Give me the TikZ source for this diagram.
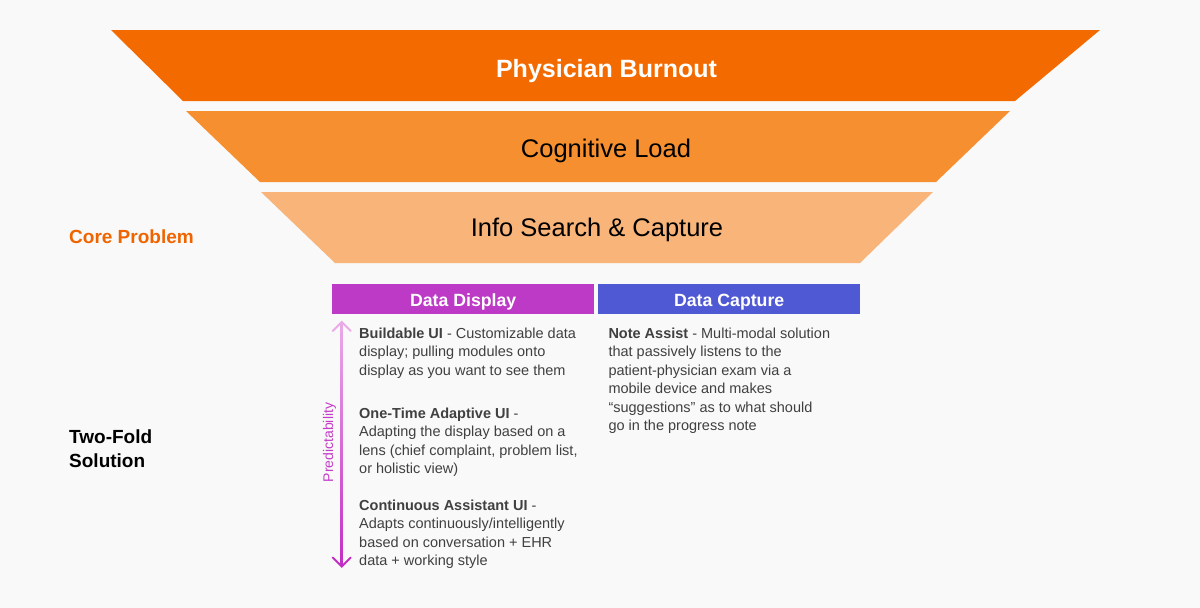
\documentclass[tikz,border=0pt]{standalone}
\usepackage{fontspec}
\setmainfont{Liberation Sans}
\definecolor{bgc}{HTML}{F9F9F9}
\definecolor{lvla}{HTML}{F36A00}
\definecolor{lvlb}{HTML}{F68F2F}
\definecolor{lvlc}{HTML}{F8B479}
\definecolor{ddc}{HTML}{BC3AC5}
\definecolor{dcc}{HTML}{5059D4}
\definecolor{txtc}{HTML}{404040}
\definecolor{corec}{HTML}{F06400}
\definecolor{arrtop}{HTML}{E9AAE7}
\definecolor{arrbot}{HTML}{C22EC4}
\definecolor{predc}{HTML}{C43CC8}
\newcommand{\mlines}[1]{\begin{tabular}[t]{@{}l@{}}#1\end{tabular}}
\begin{document}
\begin{tikzpicture}[x=1pt,y=-1pt,
  lvltxt/.style={anchor=base,inner sep=0pt,font=\fontsize{25.5}{30}\selectfont},
  hdrbox/.style={anchor=north west,inner sep=0pt,minimum width=262pt,minimum height=29.3pt},
  hdrtxt/.style={anchor=base,inner sep=0pt,text=white,font=\bfseries\fontsize{17.7}{21}\selectfont},
  bodytxt/.style={anchor=base west,inner sep=0pt,text=txtc,font=\fontsize{14.5}{18.5}\selectfont},
  sidetxt/.style={anchor=base west,inner sep=0pt,font=\bfseries\fontsize{19}{24.3}\selectfont}]
\fill[bgc] (0,0) rectangle (1200,608);
\useasboundingbox (0,0) rectangle (1200,608);
% funnel levels
\coordinate (a1) at (111,30); \coordinate (a2) at (1100,30);
\coordinate (a3) at (1015,101); \coordinate (a4) at (183,101);
\fill[lvla] (a1) -- (a2) -- (a3) -- (a4) -- cycle;
\coordinate (b1) at (186,111); \coordinate (b2) at (1010,111);
\coordinate (b3) at (936,182); \coordinate (b4) at (260,182);
\fill[lvlb] (b1) -- (b2) -- (b3) -- (b4) -- cycle;
\coordinate (c1) at (261,192); \coordinate (c2) at (933,192);
\coordinate (c3) at (860,263); \coordinate (c4) at (335,263);
\fill[lvlc] (c1) -- (c2) -- (c3) -- (c4) -- cycle;
\node[lvltxt,text=white,font=\bfseries\fontsize{25}{30}\selectfont] (burn) at (606.5,77) {Physician Burnout};
\node[lvltxt] (cog) at (606,157) {Cognitive Load};
\node[lvltxt] (info) at (597,236) {Info Search \& Capture};
% side labels
\node[sidetxt,text=corec] (core) at (69,243.3) {Core Problem};
\node[sidetxt,text=black] (twofold) at (69,443.3) {\mlines{Two-Fold\\Solution}};
% headers
\node[hdrbox,fill=ddc] (ddbox) at (332,284) {};
\node[hdrtxt] (ddtxt) at ([yshift=7.4pt]ddbox.south) {Data Display};
\node[hdrbox,fill=dcc] (dcbox) at (598,284) {};
\node[hdrtxt] (dctxt) at ([yshift=7.4pt]dcbox.south) {Data Capture};
% predictability arrow
\coordinate (atop) at (341.7,322);
\coordinate (abot) at (341.7,566.5);
\shade[top color=arrtop,bottom color=arrbot] ([xshift=-1pt,yshift=-1pt]atop) rectangle ([xshift=1pt,yshift=1pt]abot);
\draw[arrtop,line width=2pt,line cap=round,line join=miter] ([xshift=-9pt,yshift=-9pt]atop) -- (atop) -- ([xshift=9pt,yshift=-9pt]atop);
\draw[arrbot,line width=2pt,line cap=round,line join=miter] ([xshift=-9pt,yshift=9pt]abot) -- (abot) -- ([xshift=9pt,yshift=9pt]abot);
\node[anchor=base,inner sep=0pt,rotate=90,text=predc,font=\fontsize{14}{17}\selectfont] (pred) at (333,442.5) {Predictability};
% body texts
\node[bodytxt] (build) at (359,338.3) {\mlines{\textbf{Buildable UI} - Customizable data\\display; pulling modules onto\\display as you want to see them}};
\node[bodytxt] (onetime) at (359,418.3) {\mlines{\textbf{One-Time Adaptive UI} -\\Adapting the display based on a\\lens (chief complaint, problem list,\\or holistic view)}};
\node[bodytxt] (contin) at (359,510) {\mlines{\textbf{Continuous Assistant UI} -\\Adapts continuously/intelligently\\based on conversation + EHR\\data + working style}};
\node[bodytxt] (note) at (608.3,338.3) {\mlines{\textbf{Note Assist} - Multi-modal solution\\that passively listens to the\\patient-physician exam via a\\mobile device and makes\\“suggestions” as to what should\\go in the progress note}};
\end{tikzpicture}
\end{document}
